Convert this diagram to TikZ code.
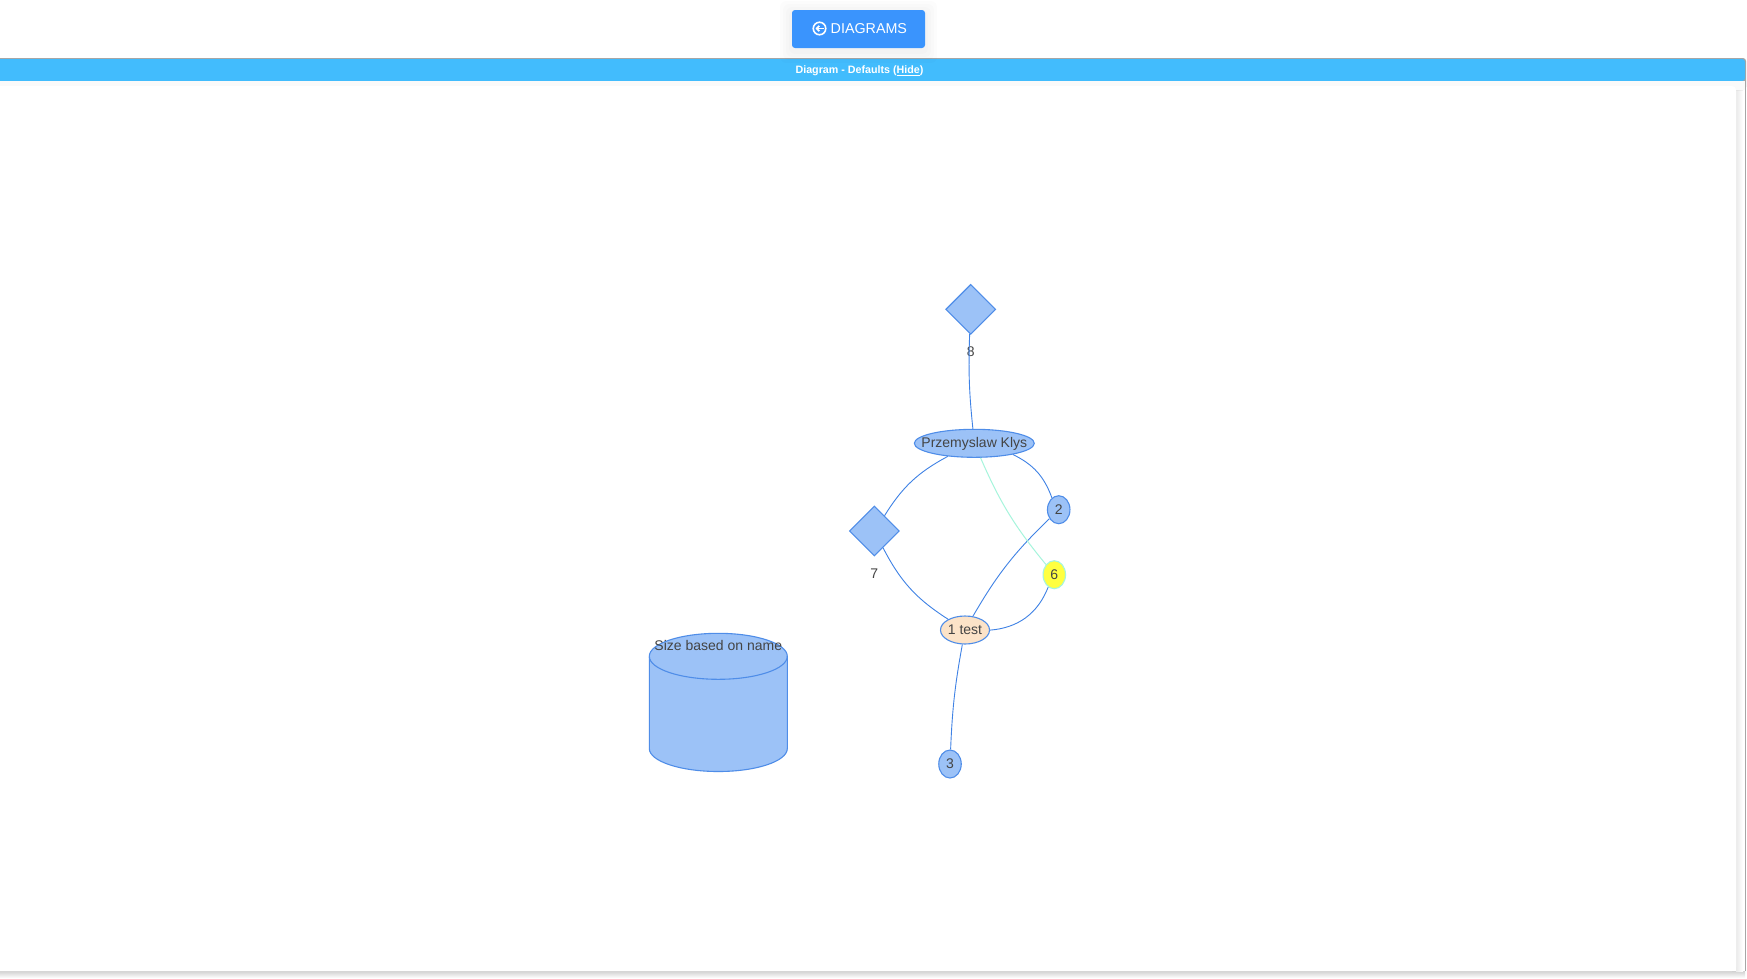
\documentclass[tikz,border=0pt]{standalone}
\usepackage{fontspec}
\setmainfont{Liberation Sans}
\usetikzlibrary{shapes.geometric,arrows.meta}
\definecolor{nodefill}{HTML}{9CC2F7}
\definecolor{nodeline}{HTML}{4F8DE8}
\definecolor{edgeline}{HTML}{3F82E5}
\definecolor{labeltext}{HTML}{444444}
\definecolor{barblue}{HTML}{42BCFD}
\definecolor{btnblue}{HTML}{3A94FD}
\definecolor{sixfill}{HTML}{FFFF40}
\definecolor{sixline}{HTML}{A6F5DC}
\definecolor{testfill}{HTML}{FCE3C8}
\tikzset{
  txt/.style={text=labeltext,inner sep=0pt,font=\fontsize{14}{14}\selectfont},
  oval/.style={ellipse,draw=nodeline,fill=nodefill,line width=1.1pt,inner sep=0pt,minimum height=28,txt},
  dot/.style={oval,minimum width=22.5},
  gem/.style={diamond,draw=nodeline,fill=nodefill,line width=1.1pt,inner sep=0pt,minimum width=50,minimum height=50},
  link/.style={draw=edgeline,line width=0.9pt},
  greenlink/.style={draw=sixline,line width=1pt}
}
\begin{document}
\begin{tikzpicture}[x=1pt,y=-1pt]
  \useasboundingbox (0,0) rectangle (1747,978);
  \fill[white] (0,0) rectangle (1747,978);
  % page frame
  \shade[top color=black!18,bottom color=white] (0,971) rectangle (1745,978);
  \shade[left color=black!8,right color=white] (1736,90) rectangle (1743,971);
  \fill[rounded corners=3pt,black!35] (-5,58) rectangle (1746,90);
  \fill[black!35] (1745,80) rectangle (1746,971);
  \fill[rounded corners=3pt,barblue] (-5,59) rectangle (1745,81);
  \fill[black!2] (0,81) rectangle (1745,90);
  \fill[rounded corners=4pt,white] (-5,86) rectangle (1736,971);
  % button
  \foreach \g in {12,9,6,3}
    \fill[black,opacity=0.012,rounded corners=6pt] (792-\g,10-\g+3) rectangle (925+\g,48+\g+3);
  \node (btn) [fill=btnblue,rounded corners=3pt,minimum width=133,minimum height=38,inner sep=0pt] at (858.5,29) {};
  \node (btntext) [text=white,inner sep=0pt,anchor=west,font=\fontsize{14.3}{15}\selectfont] at (830.5,29) {DIAGRAMS};
  \node (icon) [circle,draw=white,line width=1.6pt,minimum size=12.5,inner sep=0pt] at (819.5,28.5) {};
  \draw[white,line width=1.7pt,-{Straight Barb[length=2.6pt,width=5.4pt]}] (824,28.5) -- (815.5,28.5);
  \node (title) [text=white,inner sep=0pt,font=\fontsize{10.7}{11}\bfseries\selectfont] at (859.5,71) {Diagram - Defaults (\underline{Hide})};
  % cylinder
  \filldraw[draw=nodeline,fill=nodefill,line width=1.1pt] (649.3,656.3) -- (649.3,748.5)
    arc[start angle=180,end angle=0,x radius=69,y radius=23] -- (787.3,656.3)
    arc[start angle=0,end angle=-180,x radius=69,y radius=23] -- cycle;
  \draw[nodeline,line width=1.1pt] (649.3,656.3) arc[start angle=180,end angle=0,x radius=69,y radius=23];
  \node (cyl) [txt] at (718.3,645.5) {Size based on name};
  % nodes
  \node (n8) [gem] at (970.7,309.3) {};
  \node (l8) [txt] at (970.7,351.5) {8};
  \node (n7) [gem] at (874.3,531) {};
  \node (l7) [txt] at (874.3,573.5) {7};
  \node (klys) [oval,inner xsep=-10.5pt,text height=10pt,text depth=1.5pt] at (974.3,443.3) {Przemyslaw Klys};
  \node (n2) [dot] at (1058.7,509.7) {2};
  \node (n6) [dot,draw=sixline,fill=sixfill] at (1054.3,574.7) {6};
  \node (test) [oval,fill=testfill,minimum width=49] at (965,630) {1 test};
  \node (n3) [dot] at (950,764) {3};
  % links
  \path[link]
  (klys) edge [bend left=4] (n8)
  edge [bend right=15] (n7)
  edge [bend left=22] (n2)
  (n7) edge [bend right=15] (test)
  (n2) edge [bend right=8] (test)
  (n6) edge [bend left=32] (test)
  (test) edge [bend right=4] (n3);
  \path[greenlink] (klys) edge [bend right=8] (n6);
\end{tikzpicture}
\end{document}
